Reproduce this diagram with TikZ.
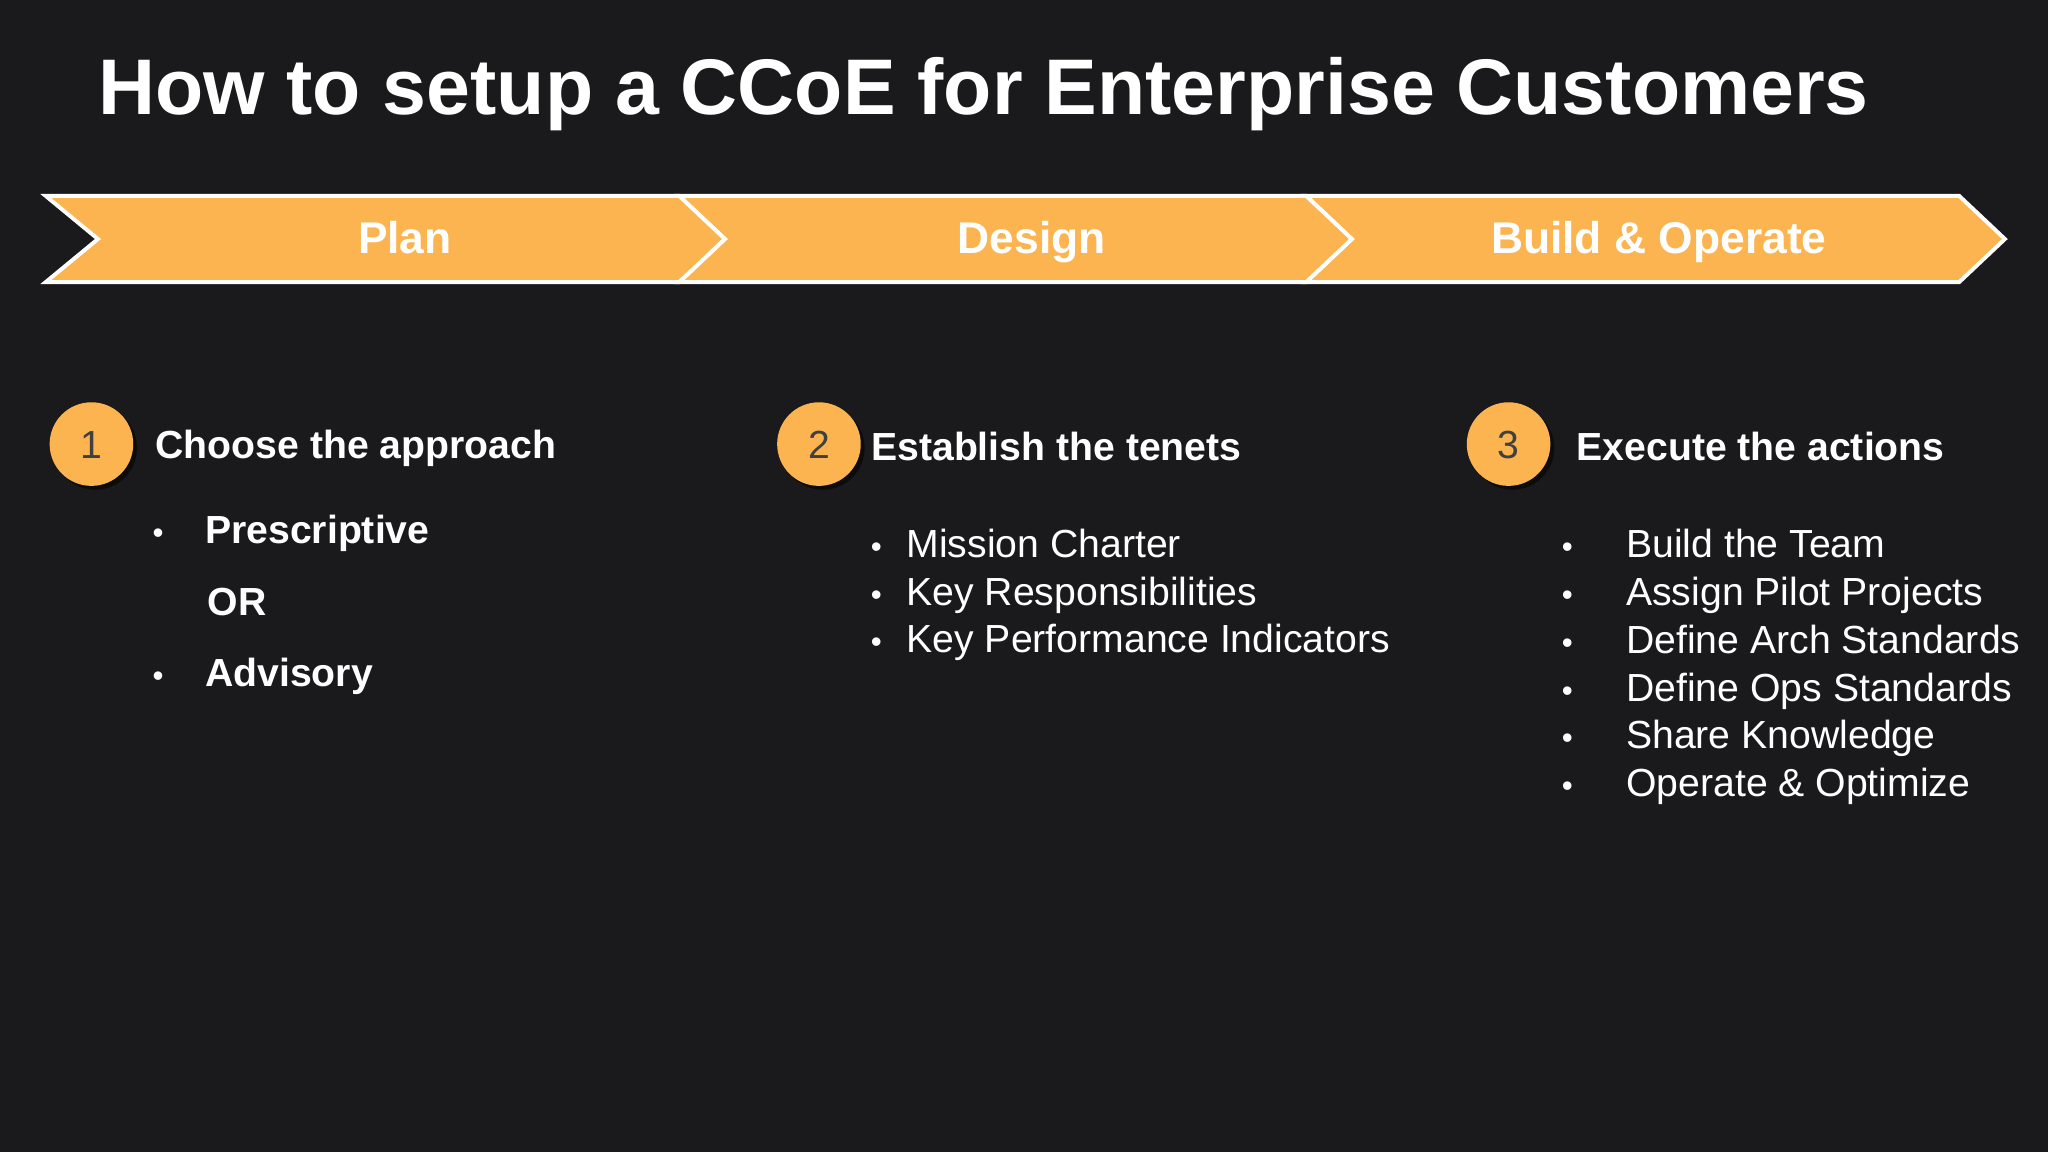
\documentclass[tikz,border=0pt]{standalone}
\usepackage{fontspec}
\setmainfont{Liberation Sans}
\definecolor{bg}{HTML}{1A1A1C}
\definecolor{org}{HTML}{FBB450}
\definecolor{num}{HTML}{404040}
\begin{document}
\begin{tikzpicture}[x=0.5pt,y=-0.5pt,
  every node/.style={text height=0.75em,text depth=0.22em},
  tx/.style={yshift=-3pt},
  chev/.style={fill=org,draw=white,line width=1.5pt,line join=miter},
  ctext/.style={tx,text=white,font=\bfseries\fontsize{17}{20}\selectfont},
  circnum/.style={tx,text=num,font=\fontsize{15}{18}\selectfont},
  head/.style={tx,anchor=west,text=white,font=\bfseries\fontsize{15}{18}\selectfont},
  item/.style={tx,anchor=west,text=white,font=\fontsize{15}{18}\selectfont},
  bitem/.style={tx,anchor=west,text=white,font=\bfseries\fontsize{15}{18}\selectfont},
  dot/.style={tx,anchor=center,text=white,font=\fontsize{12}{14}\selectfont}]
\fill[bg] (0,0) rectangle (1568,882);
\useasboundingbox (0,0) rectangle (1568,882);
\node[anchor=west,yshift=-7.5pt,text=white,font=\bfseries\fontsize{30.2}{36}\selectfont] (title) at (68,67) {How to setup a CCoE for Enterprise Customers};
\draw[chev] (1000,150) -- (1500,150) -- (1535,183) -- (1500,216) -- (1000,216) -- (1035,183) -- cycle;
\draw[chev] (520,150) -- (1000,150) -- (1035,183) -- (1000,216) -- (520,216) -- (555,183) -- cycle;
\draw[chev] (35,150) -- (520,150) -- (555,183) -- (520,216) -- (35,216) -- (75,183) -- cycle;
\node[ctext] (p) at (310,183) {Plan};
\node[ctext] (d) at (790,183) {Design};
\node[ctext] (b) at (1270,183) {Build \& Operate};
\foreach \n/\x in {1/70,2/627,3/1155}{
  \fill[black,opacity=0.5] (\x+3,343) circle (32);
  \fill[org] (\x,340) circle (32);
  \node[circnum] (c\n) at (\x,340) {\n};
}
\node[head] (h1) at (112,340) {Choose the approach};
\node[head] (h2) at (660,341) {Establish the tenets};
\node[head] (h3) at (1200,341) {Execute the actions};
\node[dot] at (121,405) {•}; \node[bitem] (a1) at (150,405) {Prescriptive};
\node[bitem] (a2) at (152,460) {OR};
\node[dot] at (121,514) {•}; \node[bitem] (a3) at (150,514) {Advisory};
\foreach \t [count=\i] in {Mission Charter,Key Responsibilities,Key Performance Indicators}{
  \node[dot] at (671,{379+36.5*\i}) {•};
  \node[item] (m\i) at (687,{379+36.5*\i}) {\t};
}
\foreach \t [count=\i] in {Build the Team,Assign Pilot Projects,Define Arch Standards,Define Ops Standards,Share Knowledge,Operate \& Optimize}{
  \node[dot] at (1200,{379+36.6*\i}) {•};
  \node[item] (e\i) at (1238,{379+36.6*\i}) {\t};
}
\end{tikzpicture}
\end{document}
